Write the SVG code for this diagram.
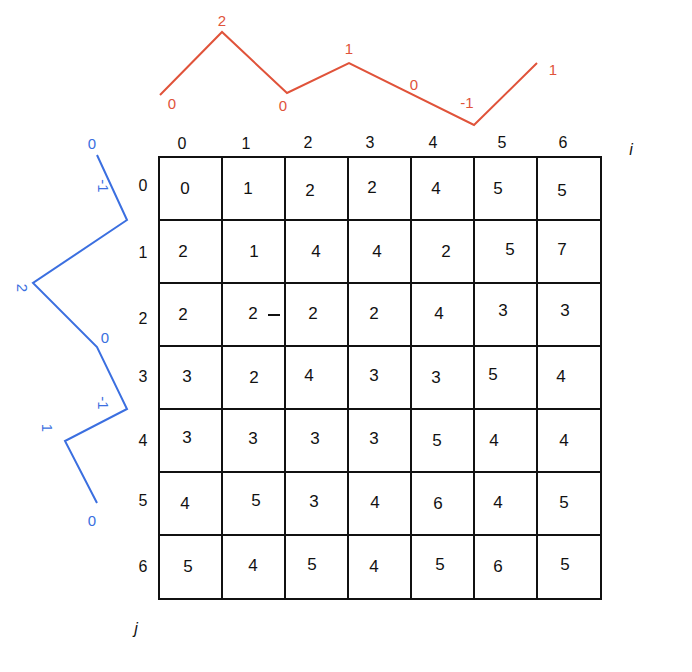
<svg xmlns="http://www.w3.org/2000/svg" width="692" height="672" viewBox="0 0 692 672">
<style>
text{font-family:"Liberation Sans",sans-serif;text-anchor:middle;dominant-baseline:central}
.v{font-size:17px;fill:#111}
.h{font-size:16px;fill:#111}
.r{font-size:15px;fill:#e0533a}
.b{font-size:15px;fill:#3b6fe0}
.g{fill:none;stroke:#111;stroke-width:2}
</style>
<rect width="692" height="672" fill="#fff"/>
<g id="connectors">
<polyline points="160,95 222,32 287,93 349,63 474,125 537,63" fill="none" stroke="#e0533a" stroke-width="2"/>
<polyline points="97,155 127,220 33,283 97,347 127,409 65,441 97,503" fill="none" stroke="#3b6fe0" stroke-width="2"/>
</g>
<g id="grid">
<rect class="g" x="159" y="157" width="442" height="442"/>
<path class="g" d="M222,157V599M285,157V599M348,157V599M411,157V599M474,157V599M537,157V599M159,220H601M159,283H601M159,346H601M159,409H601M159,472H601M159,535H601"/>
<path class="g" d="M268,315H280" stroke-width="1.5"/>
</g>
<g id="values">
<text class="v" x="185" y="188">0</text><text class="v" x="248" y="188">1</text><text class="v" x="310" y="190">2</text><text class="v" x="372" y="187">2</text><text class="v" x="436" y="188">4</text><text class="v" x="498" y="188">5</text><text class="v" x="562" y="190">5</text>
<text class="v" x="183" y="251">2</text><text class="v" x="254" y="251">1</text><text class="v" x="316" y="251">4</text><text class="v" x="377" y="251">4</text><text class="v" x="446" y="251">2</text><text class="v" x="510" y="249">5</text><text class="v" x="562" y="249">7</text>
<text class="v" x="183" y="314">2</text><text class="v" x="253" y="313">2</text><text class="v" x="313" y="313">2</text><text class="v" x="374" y="313">2</text><text class="v" x="439" y="313">4</text><text class="v" x="503" y="310">3</text><text class="v" x="565" y="310">3</text>
<text class="v" x="187" y="376">3</text><text class="v" x="254" y="377">2</text><text class="v" x="309" y="375">4</text><text class="v" x="374" y="375">3</text><text class="v" x="436" y="377">3</text><text class="v" x="493" y="374">5</text><text class="v" x="561" y="376">4</text>
<text class="v" x="187" y="437">3</text><text class="v" x="253" y="438">3</text><text class="v" x="315" y="438">3</text><text class="v" x="374" y="438">3</text><text class="v" x="437" y="440">5</text><text class="v" x="494" y="440">4</text><text class="v" x="564" y="440">4</text>
<text class="v" x="185" y="503">4</text><text class="v" x="256" y="500">5</text><text class="v" x="314" y="501">3</text><text class="v" x="375" y="502">4</text><text class="v" x="438" y="503">6</text><text class="v" x="498" y="502">4</text><text class="v" x="564" y="502">5</text>
<text class="v" x="188" y="566">5</text><text class="v" x="253" y="565">4</text><text class="v" x="312" y="564">5</text><text class="v" x="374" y="566">4</text><text class="v" x="440" y="564">5</text><text class="v" x="498" y="566">6</text><text class="v" x="565" y="564">5</text>
</g>
<g id="headers">
<text class="h" x="182" y="143">0</text><text class="h" x="246" y="143">1</text><text class="h" x="308" y="142">2</text><text class="h" x="370" y="142">3</text><text class="h" x="433" y="142">4</text><text class="h" x="502" y="142">5</text><text class="h" x="563" y="142">6</text>
<text class="h" x="631" y="149" font-size="24" font-style="italic">i</text>
<text class="h" x="143" y="185">0</text><text class="h" x="143" y="252">1</text><text class="h" x="143" y="318">2</text><text class="h" x="143" y="376">3</text><text class="h" x="143" y="440">4</text><text class="h" x="143" y="500">5</text><text class="h" x="143" y="566">6</text>
<text class="h" x="136" y="628" font-size="24" font-style="italic">j</text>
</g>
<g id="red-labels">
<text class="r" x="172" y="103">0</text><text class="r" x="222" y="20">2</text><text class="r" x="283" y="105">0</text><text class="r" x="349" y="48">1</text><text class="r" x="414" y="84">0</text><text class="r" x="467" y="102">-1</text><text class="r" x="553" y="69">1</text>
</g>
<g id="blue-labels">
<text class="b" x="92" y="143">0</text>
<text class="b" x="103" y="186" transform="rotate(90 103 186)">-1</text>
<text class="b" x="22" y="288" transform="rotate(90 22 288)">2</text>
<text class="b" x="105" y="337">0</text>
<text class="b" x="103" y="403" transform="rotate(90 103 403)">-1</text>
<text class="b" x="47" y="428" transform="rotate(90 47 428)">1</text>
<text class="b" x="92" y="520">0</text>
</g>
</svg>
